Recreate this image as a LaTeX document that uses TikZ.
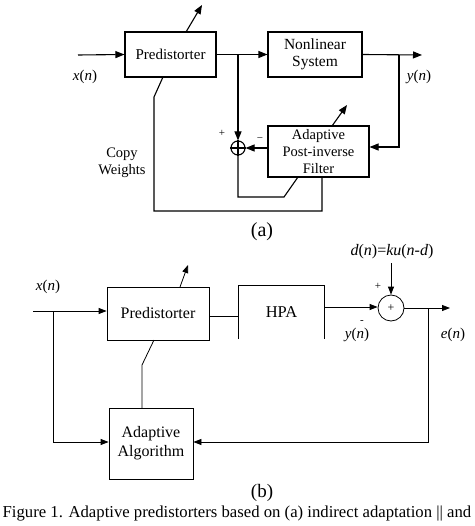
\documentclass[tikz,border=0pt]{standalone}
\usepackage{fontspec}
\setmainfont{Liberation Serif}
\usetikzlibrary{arrows.meta}
\begin{document}
\begin{tikzpicture}[x=1pt,y=-1pt,
  lw/.style={line width=1.1pt},
  lwb/.style={line width=0.8pt},
  tipa/.style={-{Triangle[length=9pt,width=7pt]}},
  tipb/.style={-{Triangle[length=8pt,width=6pt]}},
  blk/.style={draw,lw,inner sep=0pt,align=center,font=\fontsize{14.5}{17}\selectfont},
  blkb/.style={draw,lwb,inner sep=0pt,align=center,font=\fontsize{16}{19}\selectfont},
  lbl/.style={inner sep=0pt,font=\fontsize{15}{16}\selectfont},
  sml/.style={inner sep=0pt,font=\fontsize{11}{12}\selectfont}]
\useasboundingbox (0,0) rectangle (474,526);
\fill[white] (0,0) rectangle (474,526);
% ---------------- (a)
\node[blk,minimum width=91pt,minimum height=45pt,font=\fontsize{15}{17}\selectfont] (predA) at (170.5,54.5) {Predistorter};
\node[blk,minimum width=94pt,minimum height=45pt,font=\fontsize{15.5}{17}\selectfont] (nlsA) at (315,54.5) {Nonlinear\\System};
\node[blk,minimum width=101pt,minimum height=51pt] (apfA) at (318.5,151.5) {Adaptive\\Post-inverse\\Filter};
\node[draw,lw,circle,minimum size=14pt,inner sep=0pt] (sumA) at (238,148) {};
\draw[lw] (sumA.north) -- (sumA.south) (sumA.west) -- (sumA.east);
\coordinate (inA) at (78,55);
\coordinate (outA) at (422,55);
\coordinate (jA1) at (238,55);
\coordinate (jA2) at (399,55);
\coordinate (cA1) at (399,147);
\draw[lw,tipa] (inA) -- (predA.west);
\draw[lw,tipa] (predA.east) -- (nlsA.west);
\draw[lw,tipa] (nlsA.east) -- (outA);
\draw[lw,tipa] (jA1) -- (sumA.north);
\draw[lw,tipa] (jA2) -- (cA1) -- (cA1 -| apfA.east);
\draw[lw,tipa] (apfA.west |- sumA) -- (sumA.east);
\coordinate (bA1) at (238,197);
\coordinate (bA2) at (284,197);
\coordinate (bA3) at (298,177);
\draw[lw] (sumA.south) -- (bA1) -- (bA2) -- (bA3);
\coordinate (wA0) at (163,77);
\coordinate (wA1) at (154,97);
\coordinate (wA2) at (154,211);
\coordinate (wA3) at (322,211);
\coordinate (wA4) at (322,177);
\draw[lw] (wA0) -- (wA1) -- (wA2) -- (wA3) -- (wA4);
\coordinate (adA1) at (186,32);
\coordinate (adA2) at (202,5);
\draw[lw,tipa] (adA1) -- (adA2);
\coordinate (adA3) at (332,126);
\coordinate (adA4) at (347,105);
\draw[lw,tipa] (adA3) -- (adA4);
\node[lbl] (xA) at (85,77) {\textit{x}(\textit{n})};
\node[lbl] (yA) at (419,77) {\textit{y}(\textit{n})};
\node[sml] (plA) at (222,133) {+};
\node[sml] (miA) at (260,140) {\textminus};
\node[lbl,align=center,font=\fontsize{14.5}{17}\selectfont] (cwA) at (122,163) {Copy\\Weights};
\node[lbl,font=\fontsize{20}{22}\selectfont] (capA) at (262,232) {(a)};
% ---------------- (b)
\node[blkb,minimum width=102pt,minimum height=53pt] (predB) at (158,313.5) {Predistorter};
\node[inner sep=0pt,minimum width=85pt,minimum height=53pt,font=\fontsize{16.5}{18}\selectfont] (hpaB) at (281.5,312.5) {HPA};
\draw[lwb] (hpaB.south west) -- (hpaB.north west) -- (hpaB.north east) -- (hpaB.south east);
\node[blkb,minimum width=84pt,minimum height=71pt] (aaB) at (151,443.5) {Adaptive\\Algorithm};
\node[draw,lwb,circle,minimum size=26pt,inner sep=0pt,font=\fontsize{12}{12}\selectfont] (sumB) at (391,308) {+};
\coordinate (inB) at (33,311);
\coordinate (jB1) at (53,311);
\coordinate (jB2) at (53,442);
\draw[lwb,tipb] (inB) -- (predB.west |- inB);
\draw[lwb,tipb] (jB1) -- (jB2) -- (jB2 -| aaB.west);
\coordinate (pB1) at (209,316);
\draw[lwb] (pB1) -- (pB1 -| hpaB.west);
\coordinate (hB1) at (324,307);
\draw[lwb,tipb] (hB1) -- (hB1 -| sumB.west);
\coordinate (oB) at (450,308);
\draw[lwb,tipb] (sumB.east) -- (oB);
\coordinate (jB3) at (428,308);
\coordinate (jB4) at (428,442);
\draw[lwb,tipb] (jB3) -- (jB4) -- (jB4 -| aaB.east);
\coordinate (dB) at (391,263);
\draw[lwb,tipb] (dB) -- (sumB.north);
\coordinate (aB1) at (142,408);
\coordinate (aB2) at (142,365);
\coordinate (aB3) at (154,340);
\draw[lwb] (aB1) -- (aB2) -- (aB3);
\coordinate (adB1) at (180,287);
\coordinate (adB2) at (188,265);
\draw[lwb,tipb] (adB1) -- (adB2);
\node[lbl] (xB) at (48,287) {\textit{x}(\textit{n})};
\node[lbl] (yB) at (357,335) {\textit{y}(\textit{n})};
\node[sml] (miB) at (362,322) {-};
\node[lbl] (eB) at (453,335) {\textit{e}(\textit{n})};
\node[lbl,font=\fontsize{16}{18}\selectfont] (dlB) at (392,252) {\textit{d}(\textit{n})=\textit{ku}(\textit{n}-\textit{d})};
\node[sml] (plB) at (378,286) {+};
\node[lbl,font=\fontsize{19}{21}\selectfont] (capB) at (262,493) {(b)};
\node[inner sep=0pt,anchor=base,font=\fontsize{16.7}{18}\selectfont] (fig) at (237,517) {Figure 1. Adaptive predistorters based on (a) indirect adaptation || and};
\end{tikzpicture}
\end{document}
